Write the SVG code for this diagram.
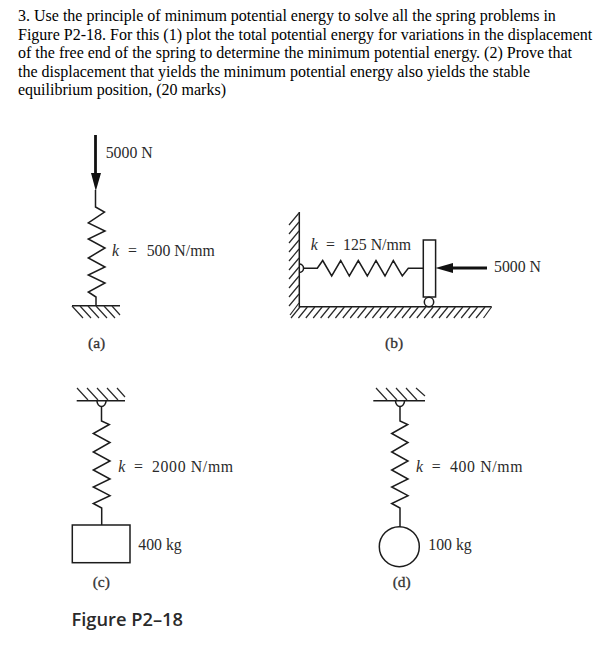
<svg xmlns="http://www.w3.org/2000/svg" width="615" height="652" viewBox="0 0 615 652">
<style>
.p{font-family:"Liberation Serif",serif;font-size:16px;fill:#000}
.t{font-family:"Liberation Serif",serif;font-size:15.8px;fill:#2a2a2a}
.w{letter-spacing:.65px}
.c{font-family:"Liberation Serif",serif;font-size:15.5px;fill:#333;stroke:#333;stroke-width:.3}
.i{font-style:italic}
.f{font-family:"Open Sans",sans-serif;font-size:18.3px;fill:#2a2a2a;font-weight:600}
.l{fill:none;stroke:#1c1c1c;stroke-width:1.5}
.h{fill:none;stroke:#2a2a2a;stroke-width:1.2}
.b{fill:none;stroke:#111;stroke-width:2.8}
.a{fill:#111;stroke:none}
</style>
<rect width="615" height="652" fill="#fff"/>
<g id="problem-text">
<text class="p" x="18" y="21">3. Use the principle of minimum potential energy to solve all the spring problems in</text>
<text class="p" x="18" y="40">Figure P2-18. For this (1) plot the total potential energy for variations in the displacement</text>
<text class="p" x="18" y="58">of the free end of the spring to determine the minimum potential energy. (2) Prove that</text>
<text class="p" x="18" y="77">the displacement that yields the minimum potential energy also yields the stable</text>
<text class="p" x="18" y="95">equilibrium position, (20 marks)</text>
</g>
<g id="connectors">
<path class="l" d="M95.5 190V207L104.5 212L88.3 223L105 231L88.3 239L105 248L88.3 258L105 267L88.3 275L105 283L88.3 292L96 297V306"/>
<path class="l" d="M304 268.3H317.3L322.7 260.5L331.7 276L340.7 260.5L349.3 276L358.3 260.5L367.3 276L376 260.5L385 276L393.3 260.5L402.3 276L408.3 268.3H423"/>
<path class="l" d="M101.5 406V421L109.3 424.5L93.3 433.5L110 442.5L93.3 452L110 461L93.3 470L110 479L93.3 487L110 495.7L93.3 503.5L101.7 508V525"/>
<path class="l" d="M400 406V421L407.7 424.5L391.7 433.5L408 442.5L391.7 452L408 461L391.7 470L408 479L391.7 487L408 495.7L391.7 503.5L400 508V527"/>
<path class="b" d="M95.5 135V176"/>
<path class="b" d="M450 268H487"/>
</g>
<g id="arrowheads">
<path class="a" d="M91 173H101L95.8 191Z"/>
<path class="a" d="M435.5 268L453 263V273Z"/>
</g>
<g id="fig-a">
<path class="l" d="M72 305.7H120"/>
<path class="h" d="M72 306L83 318M80 306L91 318M88 306L99 318M96 306L107 318M104 306L115 318M112 306L120 315"/>
<text class="t" x="105.7" y="157.5">5000 N</text>
<text class="t" y="255.5"><tspan class="i" x="112">k</tspan><tspan x="128">=</tspan><tspan x="146.7">500 N/mm</tspan></text>
<text class="c" x="88" y="347.5">(a)</text>
</g>
<g id="fig-b">
<path class="l" d="M299.3 212V306.7H491.7"/>
<path class="h" d="M299 213L289 225M299 222L289 234M299 231L289 243M299 240L289 252M299 249L289 261M299 258L289 270M299 267L289 279M299 276L289 288M299 285L289 297M299 294L289 306M299 303L290 315"/>
<path class="h" d="M300 307L291 318M307.4 307L298.4 318M314.8 307L305.8 318M322.2 307L313.2 318M329.6 307L320.6 318M337 307L328 318M344.4 307L335.4 318M351.8 307L342.8 318M359.2 307L350.2 318M366.6 307L357.6 318M374 307L365 318M381.4 307L372.4 318M388.8 307L379.8 318M396.2 307L387.2 318M403.6 307L394.6 318M411 307L402 318M418.4 307L409.4 318M425.8 307L416.8 318M433.2 307L424.2 318M440.6 307L431.6 318M448 307L439 318M455.4 307L446.4 318M462.8 307L453.8 318M470.2 307L461.2 318M477.6 307L468.6 318M485 307L476 318M491.5 307L483.5 318"/>
<path class="l" d="M299.3 264A4.2 4.2 0 0 1 299.3 272.5"/>
<rect class="l" x="423.3" y="240" width="12.3" height="57"/>
<circle class="l" cx="429" cy="302" r="4.7"/>
<text class="t" y="250"><tspan class="i" x="310.7">k</tspan><tspan x="326">=</tspan><tspan x="343">125 N/mm</tspan></text>
<text class="t" x="494" y="271.5">5000 N</text>
<text class="c" x="385" y="347.5">(b)</text>
</g>
<g id="fig-c">
<path class="l" d="M76.7 400.7H125"/>
<path class="h" d="M77 388L88 400M87 388L98 400M97 388L108 400M107 388L118 400M117 388L125 397"/>
<path class="l" d="M97 401A4.5 5.5 0 0 0 106 401"/>
<rect class="l" x="72.3" y="525" width="57.7" height="37.7"/>
<text class="t w" y="472.3"><tspan class="i" x="118.3">k</tspan><tspan x="134">=</tspan><tspan x="152">2000 N/mm</tspan></text>
<text class="t" x="138.3" y="550">400 kg</text>
<text class="c" x="92.7" y="587">(c)</text>
<text class="f" x="71.5" y="625.5">Figure P2–18</text>
</g>
<g id="fig-d">
<path class="l" d="M373.3 400.7H425"/>
<path class="h" d="M376 388L387 400M386 388L397 400M396 388L407 400M406 388L417 400M416 388L425 396"/>
<path class="l" d="M395.5 401A4.5 5.5 0 0 0 404.5 401"/>
<circle class="l" cx="399.3" cy="546.7" r="20"/>
<text class="t w" y="472.3"><tspan class="i" x="416">k</tspan><tspan x="431.7">=</tspan><tspan x="450">400 N/mm</tspan></text>
<text class="t" x="428.3" y="550">100 kg</text>
<text class="c" x="392.7" y="587">(d)</text>
</g>
</svg>
